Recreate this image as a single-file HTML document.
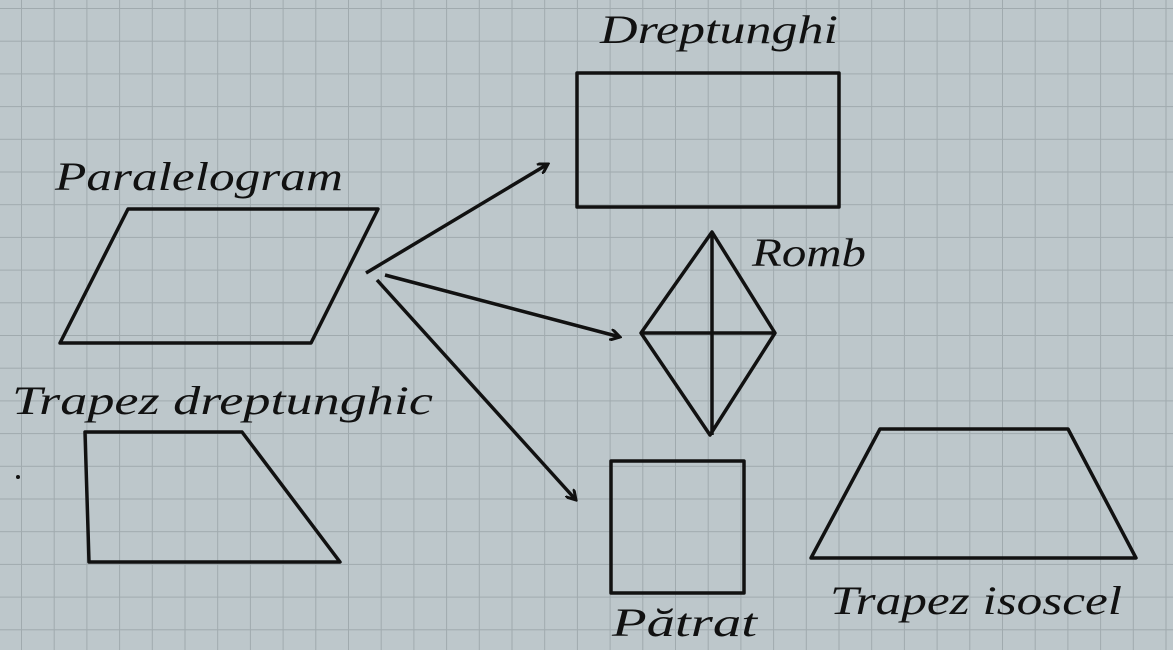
<!DOCTYPE html>
<html><head><style>
html,body{margin:0;padding:0;}
body{width:1173px;height:650px;overflow:hidden;background:#bdc7cb;}
svg{display:block}
text{font-family:"Liberation Serif",serif;font-style:italic;font-size:40px;fill:#111;}
</style></head><body>
<svg width="1173" height="650" xmlns="http://www.w3.org/2000/svg">
<defs>
<pattern id="g" x="21" y="8" width="32.7" height="32.7" patternUnits="userSpaceOnUse">
<path d="M0 0H32.7M0 0V32.7" stroke="#a0aaae" stroke-width="2" fill="none"/>
</pattern>
<marker id="a" markerWidth="12" markerHeight="12" refX="10" refY="6" orient="auto" markerUnits="userSpaceOnUse">
<path d="M0 0L10 6L0 12" stroke="#111" stroke-width="3" fill="none"/>
</marker>
</defs>
<rect width="1173" height="650" fill="#bdc7cb"/>
<rect width="1173" height="650" fill="url(#g)"/>
<g stroke="#111" stroke-width="3.5" fill="none" stroke-linejoin="round">
<rect x="577" y="73" width="262" height="134"/>
<path d="M128 209L378 209L311 343L60 343Z"/>
<path d="M85 432L242 432L340 562L89 562Z"/>
<path d="M712 232L775 333L710 435L641 333Z M712 232V435 M641 333H775"/>
<rect x="611" y="461" width="133" height="132"/>
<path d="M880 429L1068 429L1136 558L811 558Z"/>
<path d="M366 273L548 164" marker-end="url(#a)"/>
<path d="M385 275L620 337" marker-end="url(#a)"/>
<path d="M377 280L576 500" marker-end="url(#a)"/>
</g>
<circle cx="18" cy="477" r="2" fill="#111"/>
<text x="600" y="43" textLength="238" lengthAdjust="spacingAndGlyphs">Dreptunghi</text>
<text x="55" y="190" textLength="288" lengthAdjust="spacingAndGlyphs">Paralelogram</text>
<text x="752" y="266" textLength="114" lengthAdjust="spacingAndGlyphs">Romb</text>
<text x="12" y="414" textLength="421" lengthAdjust="spacingAndGlyphs">Trapez dreptunghic</text>
<text x="612" y="636" textLength="145" lengthAdjust="spacingAndGlyphs">Pătrat</text>
<text x="830" y="614" textLength="292" lengthAdjust="spacingAndGlyphs">Trapez isoscel</text>
</svg>
</body></html>
